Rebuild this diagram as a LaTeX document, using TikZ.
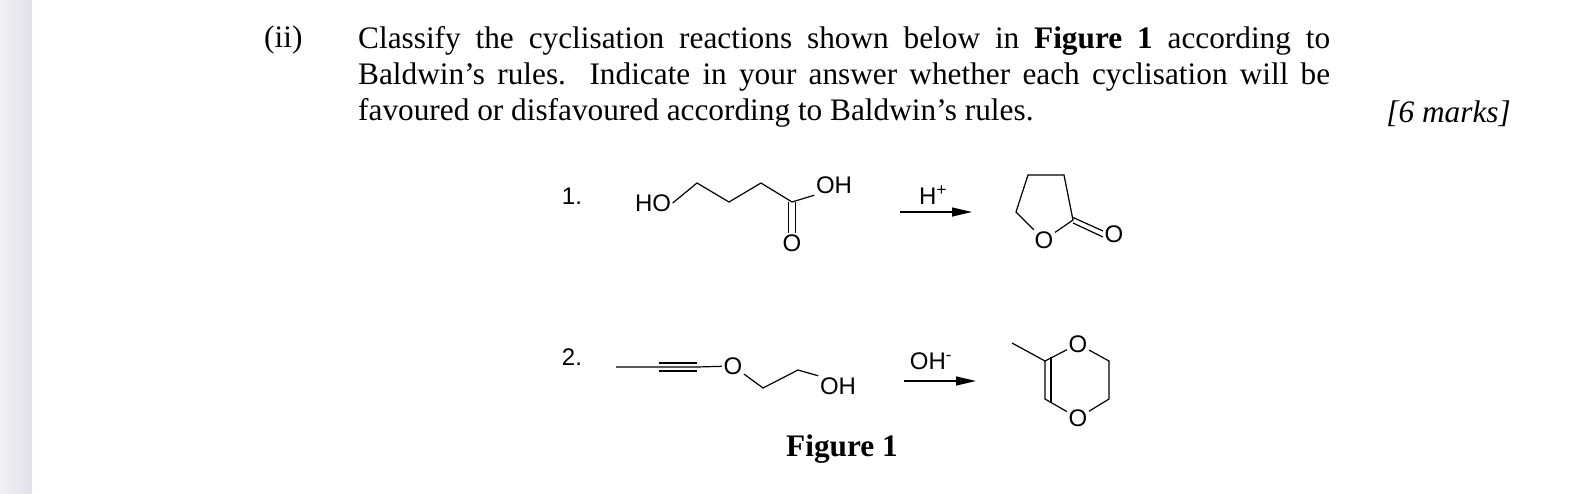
\documentclass[tikz,border=0pt]{standalone}
\usepackage{fontspec}
\setmainfont{Liberation Serif}
\setsansfont{Liberation Sans}
\usetikzlibrary{arrows.meta}
\begin{document}
\begin{tikzpicture}[x=1pt,y=-1pt,
  atom/.style={font=\sffamily\fontsize{24}{24}\selectfont,inner sep=1.5pt},
  bond/.style={line width=1.2pt},
  rxn/.style={line width=1.2pt,-{Triangle[length=20pt,width=9pt]}},
  body/.style={font=\fontsize{31.3}{36}\selectfont,inner sep=0pt,anchor=north west}]
\useasboundingbox (0,0) rectangle (1585,493);
\fill[white] (0,0) rectangle (1585,493);
\shade[left color={rgb,255:red,240;green,240;blue,244},right color={rgb,255:red,225;green,225;blue,232}] (0,0) rectangle (32,493);
% text
\node[body] (ii) at (264,26) {(ii)};
\node[body,text width=972pt,align=justify] (q) at (358,26) {Classify the cyclisation reactions shown below in \textbf{Figure 1} according to\linebreak Baldwin’s rules.  Indicate in your answer whether each cyclisation will be\linebreak favoured or disfavoured according to Baldwin’s rules.};
\node[font=\fontsize{31.3}{36}\selectfont\itshape,inner sep=0pt,anchor=base east] (mk) at (1511,122) {[6 marks]};
\node[font=\fontsize{31.3}{36}\selectfont\bfseries,inner sep=0pt] (fig) at (842,449) {Figure 1};
% reaction 1
\node[atom] (n1) at (572,196) {1.};
\node[atom] (ho) at (653,203) {HO};
\coordinate (a1) at (697,183);
\coordinate (a2) at (729,202);
\coordinate (a3) at (761,183);
\coordinate (c1) at (792,202);
\node[atom] (oh1) at (834,185) {OH};
\node[atom] (o1) at (792,243) {O};
\draw[bond] (ho.east) -- (a1) -- (a2) -- (a3) -- (c1) -- (oh1.south west);
\draw[bond] ([xshift=-3.5pt]c1) -- ([xshift=-3.5pt]o1.north);
\draw[bond] ([xshift=3.5pt]c1) -- ([xshift=3.5pt]o1.north);
\draw[rxn] (900,212) coordinate (r1a) -- (972,212) coordinate (r1b);
\node[atom] (hp) at (933,195) {H\textsuperscript{+}};
% lactone
\coordinate (l1) at (1028,175);
\coordinate (l2) at (1064,175);
\coordinate (l3) at (1073,220);
\node[atom] (lo) at (1044,240) {O};
\coordinate (l5) at (1016,212);
\node[atom] (lo2) at (1114,234) {O};
\draw[bond] (lo) -- (l5) -- (l1) -- (l2) -- (l3) -- (lo);
\draw[bond] ([yshift=-3pt]l3) -- ([yshift=-3pt]lo2.west);
\draw[bond] ([yshift=3pt,xshift=-1pt]l3) -- ([yshift=3pt]lo2.west);
% reaction 2
\node[atom] (n2) at (572,357) {2.};
\coordinate (m1) at (616,367);
\coordinate (t1) at (659,367);
\coordinate (t2) at (697,367);
\node[atom] (o2) at (733,366) {O};
\coordinate (e1) at (763,388);
\coordinate (e2) at (798,370);
\node[atom] (oh2) at (838,386) {OH};
\draw[bond] (m1) -- (t1) -- (t2) -- (o2) -- (e1) -- (e2) -- (oh2.north west);
\draw[bond] ([yshift=-4pt]t1) -- ([yshift=-4pt]t2);
\draw[bond] ([yshift=4pt]t1) -- ([yshift=4pt]t2);
\draw[rxn] (904,381) coordinate (r2a) -- (976,381) coordinate (r2b);
\node[atom] (ohm) at (931,361) {OH\textsuperscript{-}};
% dioxene
\coordinate (dm) at (1012,343);
\coordinate (d1) at (1045,361);
\node[atom] (do1) at (1078,344) {O};
\coordinate (d2) at (1109,361);
\coordinate (d3) at (1109,399);
\node[atom] (do2) at (1078,418) {O};
\coordinate (d4) at (1045,399);
\draw[bond] (dm) -- (d1) -- (do1) -- (d2) -- (d3) -- (do2) -- (d4) -- (d1);
\draw[bond] ([xshift=6pt,yshift=4pt]d1) -- ([xshift=6pt,yshift=-4pt]d4);
\end{tikzpicture}
\end{document}
